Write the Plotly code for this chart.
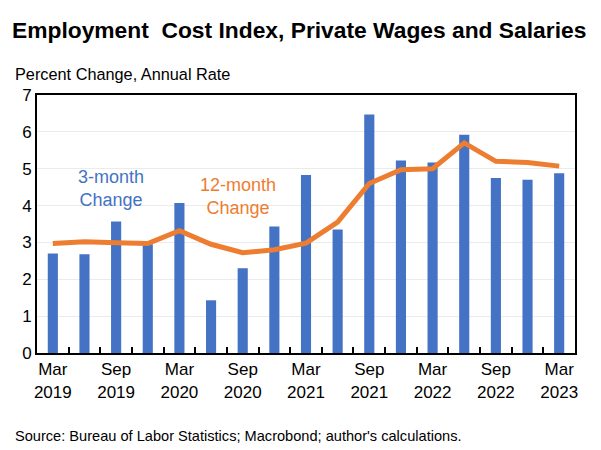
import plotly.graph_objects as go

# quarterly data, Mar 2019 - Mar 2023
quarters = ["Mar 2019", "Jun 2019", "Sep 2019", "Dec 2019",
            "Mar 2020", "Jun 2020", "Sep 2020", "Dec 2020",
            "Mar 2021", "Jun 2021", "Sep 2021", "Dec 2021",
            "Mar 2022", "Jun 2022", "Sep 2022", "Dec 2022",
            "Mar 2023"]
chg_3m = [2.70, 2.68, 3.57, 2.95, 4.07, 1.43, 2.30, 3.43, 4.83,
          3.35, 6.47, 5.22, 5.17, 5.92, 4.75, 4.70, 4.88]
chg_12m = [2.97, 3.02, 2.99, 2.97, 3.32, 2.95, 2.72, 2.80, 2.98,
           3.55, 4.60, 4.97, 5.00, 5.70, 5.20, 5.17, 5.07]

x = list(range(len(quarters)))
tick_idx = x[::2]
tick_text = [quarters[i].replace(" ", "<br>") for i in tick_idx]

BLUE = "#4472C4"
ORANGE = "#ED7D31"
FONT = "Liberation Sans, Arial, sans-serif"

fig = go.Figure()

fig.add_trace(go.Bar(x=x, y=chg_3m, width=0.32, marker_color=BLUE,
                     marker_line_width=0, name="3-month Change"))
fig.add_trace(go.Scatter(x=x, y=chg_12m, mode="lines",
                         line=dict(color=ORANGE, width=5),
                         name="12-month Change"))

# in-plot labels
fig.add_annotation(x=1.85, y=4.47, xref="x", yref="y", showarrow=False,
                   text="3-month<br>Change", font=dict(size=18, color=BLUE))
fig.add_annotation(x=5.85, y=4.25, xref="x", yref="y", showarrow=False,
                   text="12-month<br>Change", font=dict(size=18, color=ORANGE))

# axis unit label above the plot
fig.add_annotation(x=0, y=1, xref="paper", yref="paper",
                   xanchor="left", yanchor="middle", xshift=-24, yshift=21,
                   showarrow=False, text="Percent Change, Annual Rate",
                   font=dict(size=16.3, color="black"))

# source note
fig.add_annotation(x=0, y=0, xref="paper", yref="paper",
                   xanchor="left", yanchor="middle", xshift=-24, yshift=-83,
                   showarrow=False,
                   text="Source: Bureau of Labor Statistics; Macrobond; author's calculations.",
                   font=dict(size=14.6, color="black"))

fig.update_layout(
    width=601, height=450,
    margin=dict(l=37, r=26, t=95, b=97),
    paper_bgcolor="white", plot_bgcolor="white",
    font=dict(family=FONT, color="black"),
    showlegend=False,
    title=dict(text="<b>Employment  Cost Index, Private Wages and Salaries</b>",
               x=12 / 601, xanchor="left", y=1 - 30 / 450, yanchor="middle",
               font=dict(size=22.8, color="black")),
    xaxis=dict(range=[-0.5, len(quarters) - 0.5],
               tickvals=tick_idx, ticktext=tick_text, ticks="",
               tickfont=dict(size=17),
               showline=True, linecolor="black", linewidth=2, mirror=True,
               showgrid=False, zeroline=False,
               minor=dict(tickvals=[i - 0.5 for i in x[1:]], ticks="inside",
                          ticklen=6, tickcolor="black", tickwidth=1.5,
                          showgrid=False)),
    yaxis=dict(range=[0, 7], dtick=1, ticks="",
               tickfont=dict(size=17),
               showline=True, linecolor="black", linewidth=2, mirror=True,
               showgrid=True, gridcolor="#ebebeb", gridwidth=1,
               zeroline=False),
)

fig.write_html("out.html", config={"displayModeBar": False},
               post_script="document.body.style.margin='0';")
